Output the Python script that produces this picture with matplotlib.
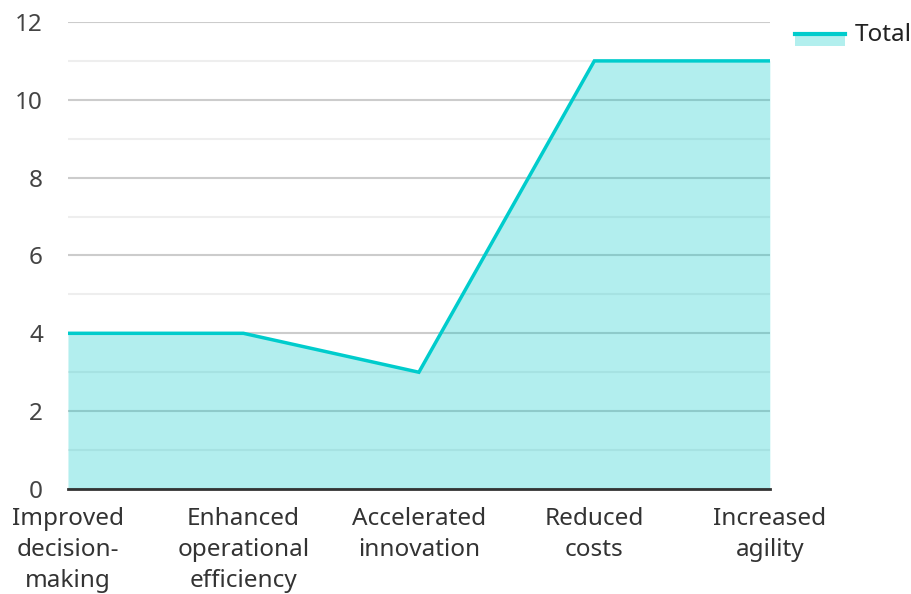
import matplotlib
matplotlib.use('Agg')
import matplotlib.pyplot as plt
from matplotlib.legend_handler import HandlerBase
from matplotlib.patches import Rectangle
from matplotlib.lines import Line2D

plt.rcParams['font.family'] = ['Noto Sans', 'DejaVu Sans']

categorias = ['Improved\ndecision-\nmaking', 'Enhanced\noperational\nefficiency',
              'Accelerated\ninnovation', 'Reduced\ncosts', 'Increased\nagility']
total = [4, 4, 3, 11, 11]

corLinha = '#00cccc'
corArea = '#b2efee'


class HandlerArea(HandlerBase):
    def create_artists(self, legend, orig, xd, yd, w, h, fontsize, trans):
        ret = Rectangle((xd, yd - h * 0.3), w, h * 0.8, facecolor=corArea,
                        edgecolor='none', transform=trans)
        lin = Line2D([xd, xd + w], [yd + h * 0.45, yd + h * 0.45], color=corLinha,
                     lw=3, transform=trans)
        return [ret, lin]


fig = plt.figure(figsize=(9.11, 5.94), dpi=100)
ax = fig.add_axes([0.0746, 0.1768, 0.7704, 0.7862])

x = list(range(len(total)))
ax.fill_between(x, 0, total, color='#00c8c8', alpha=0.3, lw=0, zorder=2)
linha, = ax.plot(x, total, color=corLinha, lw=2.5, zorder=3, solid_joinstyle='miter')

ax.set_xlim(0, len(total) - 1)
ax.set_ylim(0, 12)
ax.set_yticks(range(0, 13, 2))
ax.set_yticks(range(1, 13, 2), minor=True)
ax.grid(True, axis='y', which='major', color='#cccccc', lw=1.5, zorder=1)
ax.grid(True, axis='y', which='minor', color='#eeeeee', lw=1.5, zorder=1)
ax.set_xticks(x)
ax.set_xticklabels(categorias, linespacing=1.4)
ax.tick_params(axis='x', length=0, pad=13, labelsize=17.5, labelcolor='#333333')
ax.tick_params(axis='y', which='both', length=0, pad=18, labelsize=17.5, labelcolor='#444444')

for lado in ['top', 'right', 'left']:
    ax.spines[lado].set_visible(False)
ax.spines['bottom'].set_color('#333333')
ax.spines['bottom'].set_linewidth(2)
ax.spines['bottom'].set_zorder(4)

ax.legend([linha], ['Total'], handler_map={Line2D: HandlerArea()},
          loc='upper left', bbox_to_anchor=(1.0356, 0.997), frameon=False,
          borderaxespad=0, borderpad=0,
          fontsize=17.5, handlelength=2.05, handletextpad=0.4, labelcolor='#222222')

fig.savefig('out.png', dpi=100)
